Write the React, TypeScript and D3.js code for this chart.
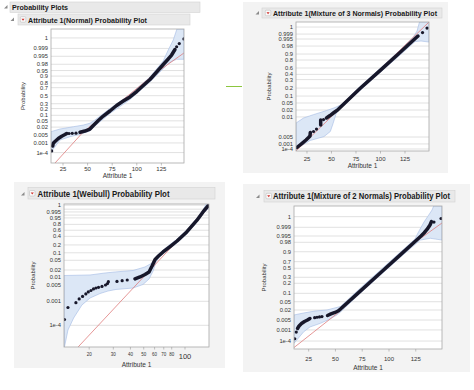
import React from "react";
import * as d3 from "d3";

type Pt = [number, number];

// ---------------- Panel 1 : Normal (y in normal-quantile units) ----------------
const normTickProbs = [0.99992, 0.999, 0.995, 0.98, 0.95, 0.9, 0.8, 0.7, 0.5, 0.3, 0.2, 0.1, 0.05, 0.02, 0.005, 0.001, 0.0001];
const normTickLabels = ["1", "0.999", "0.995", "0.98", "0.95", "0.9", "0.8", "0.7", "0.5", "0.3", "0.2", "0.1", "0.05", "0.02", "0.005", "0.001", "1e-4"];
const normDense: Pt[][] = [
  [[14.5, -3.29], [15.1, -3.11], [16.9, -2.99], [20.2, -2.8], [23.7, -2.65], [27.0, -2.54], [28.8, -2.47]],
  [[42.3, -2.39], [47.3, -2.31], [52.4, -2.18], [55.8, -1.95], [60.9, -1.62], [65.9, -1.33], [72.7, -1.0], [79.5, -0.64], [86.3, -0.35], [93.1, -0.08], [99.9, 0.27], [106.6, 0.67], [113.4, 1.06], [120.2, 1.55], [126.9, 2.04], [132.0, 2.4], [135.4, 2.66], [138.8, 3.02]],
];
const normDots: Pt[] = [[13.5, -3.61], [31.1, -2.47], [34.4, -2.46], [38.2, -2.45], [140.5, 3.2], [143.2, 3.41], [147.9, 3.71]];
const normUpper: Pt[] = [[12.8, -2.35], [21.9, -2.18], [35.5, -2.03], [45.6, -1.92], [52.4, -1.8], [57.5, -1.59], [72.7, -0.84], [93.1, 0.08], [113.4, 1.22], [126.9, 2.27], [132.0, 2.99], [137.1, 3.64], [140.8, 4.36], [148, 4.36]];
const normLower: Pt[] = [[12.8, -3.68], [21.9, -2.9], [32.1, -2.68], [42.3, -2.52], [52.4, -2.31], [57.5, -1.98], [72.7, -1.16], [93.1, -0.25], [113.4, 0.9], [123.6, 1.55], [133.7, 2.2], [140.5, 2.38], [148, 2.38]];
const normFit: Pt[] = [[16.9, -4.4], [45.3, -2.39], [120.5, 1.54], [147.9, 2.79]];

// ---------------- Panel 2 : Mixture of 3 Normals (y in fitted-quantile units) ----------------
const mix3TickQuantiles = [144.2, 136.8, 131.6, 124.2, 115.8, 109.5, 101.1, 94.4, 88.9, 80.0, 71.6, 64.3, 56.9, 49.6, 28.5, 21.2, 15.9];
const mix3TickLabels = ["1", "0.999", "0.995", "0.98", "0.9", "0.8", "0.6", "0.4", "0.3", "0.2", "0.1", "0.05", "0.02", "0.01", "0.005", "0.001", "1e-4"];
const mix3Dense: Pt[][] = [
  [[14.8, 17.5], [17.9, 20.1], [20.9, 22.7], [24.0, 25.4], [26.6, 28.0], [28.1, 29.6], [28.4, 33.3]],
  [[39.0, 41.1], [39.0, 43.7], [39.0, 46.4]],
  [[44.9, 48.5], [48.5, 51.1], [52.6, 54.3], [56.7, 57.4], [79.1, 79.5], [99.5, 98.4], [119.9, 117.4], [133.2, 130.0], [138.3, 134.7]],
];
const mix3Dots: Pt[] = [[31.7, 34.3], [34.7, 36.9], [41.9, 46.9], [142.9, 138.4], [147.5, 143.1]];
const mix3Upper: Pt[] = [[13.8, 43.2], [21.5, 48.5], [31.5, 52.0], [45.1, 56.4], [53.6, 59.5], [60.4, 62.7], [79.1, 81.6], [99.5, 100.5], [119.9, 120.0], [133.2, 133.1], [137.3, 140.0], [139.8, 149.5], [149.5, 149.5]];
const mix3Lower: Pt[] = [[13.8, 15.4], [14.8, 16.4], [28.1, 24.8], [42.4, 29.0], [48.8, 34.3], [51.6, 42.7], [54.6, 52.7], [58.7, 58.5], [79.1, 77.4], [99.5, 96.3], [119.9, 114.7], [135.2, 128.9], [141.4, 129.5], [149.5, 128.4]];
const mix3Fit: Pt[] = [[13.8, 13.8], [149.5, 149.5]];

// ---------------- Panel 3 : Weibull (log x, y = ln(-ln(1-p))) ----------------
const weibTickProbs = [0.99996, 0.999, 0.995, 0.98, 0.95, 0.8, 0.6, 0.4, 0.2, 0.1, 0.05, 0.02, 0.01, 0.005, 0.001, 0.0001];
const weibTickLabels = ["1", "", "0.995", "", "0.95", "0.8", "0.6", "0.4", "0.2", "0.1", "0.05", "0.02", "0.01", "0.005", "0.001", "1e-4"];
const weibXTicks = [20, 30, 40, 50, 60, 70, 80, 100];
const weibXTickLabels = ["20", "30", "40", "50", "60", "70", "80", "100"];
const weibDense: Pt[][] = [
  [[43.2, -4.76], [47.0, -4.57], [51.1, -4.33], [54.7, -4.09], [57.5, -3.52], [60.5, -2.89], [64.1, -2.56], [69.2, -2.17], [77.8, -1.65], [87.5, -1.12], [103.0, -0.25], [121.9, 0.85], [135.4, 1.67], [148.2, 2.29]],
];
const weibDots: Pt[] = [[13.2, -8.65], [14.0, -7.5], [16.0, -7.04], [16.9, -6.68], [17.9, -6.44], [18.9, -6.2], [19.7, -6.01], [20.6, -5.87], [21.5, -5.72], [22.4, -5.63], [23.4, -5.56], [24.8, -5.48], [26.3, -5.34], [27.2, -5.2], [27.6, -5.02], [31.9, -5.0], [34.8, -4.93], [37.9, -4.86]];
const weibUpper: Pt[] = [[13.1, -4.43], [20.3, -4.38], [26.1, -4.19], [30.9, -4.09], [41.8, -3.95], [51.1, -3.61], [57.5, -3.23], [61.5, -2.6], [69.2, -1.98], [77.8, -1.45], [87.5, -0.93], [103.0, -0.06], [121.9, 1.04], [135.4, 1.86], [142.5, 2.43], [149.7, 2.43]];
const weibLower: Pt[] = [[13.2, -11.29], [14.0, -9.66], [15.4, -8.51], [17.7, -7.26], [20.3, -6.59], [24.0, -6.16], [27.4, -5.92], [31.4, -5.77], [41.8, -5.63], [49.4, -5.29], [54.7, -4.76], [58.5, -4.0], [61.5, -3.13], [64.1, -2.75], [69.2, -2.37], [77.8, -1.84], [87.5, -1.31], [103.0, -0.45], [121.9, 0.66], [135.4, 1.47], [149.7, 2.05]];
const weibFit: Pt[] = [[16.6, -11.29], [149.7, 2.15]];

// ---------------- Panel 4 : Mixture of 2 Normals ----------------
const mix2TickQuantiles = [139.2, 128.9, 120.5, 114.4, 105.3, 95.7, 89.3, 80.6, 74.8, 65.1, 57.0, 49.0, 39.3, 29.7, 19.0];
const mix2TickLabels = ["1", "0.999", "0.995", "0.98", "0.9", "0.7", "0.5", "0.3", "0.2", "0.1", "0.05", "0.02", "0.005", "0.001", "1e-4"];
const mix2Dense: Pt[][] = [
  [[14.6, 31.1], [16.0, 33.5], [18.3, 35.9], [21.1, 37.9], [23.9, 39.3], [26.2, 40.8]],
  [[42.6, 43.7], [45.8, 45.2], [49.6, 46.6], [52.4, 48.0], [54.7, 49.9], [72.9, 67.0], [91.6, 84.5], [110.3, 102.0], [124.3, 115.2], [129.9, 120.5], [132.7, 123.4], [135.5, 126.8], [138.3, 131.2], [139.7, 134.5]],
];
const mix2Dots: Pt[] = [[12.0, 21.2], [13.4, 27.7], [30.6, 41.6], [32.8, 42.0], [35.1, 42.3], [37.4, 42.6], [142.0, 134.0], [148.6, 137.4]];
const mix2Upper: Pt[] = [[11.3, 44.2], [20.4, 46.1], [30.9, 48.0], [42.1, 49.0], [54.7, 52.4], [72.9, 69.8], [91.6, 87.2], [110.3, 104.6], [124.3, 117.6], [127.7, 124.7], [132.7, 134.0], [136.1, 139.2], [140.2, 145.6], [141.7, 149.5], [149.5, 149.5]];
const mix2Lower: Pt[] = [[11.3, 16.8], [20.4, 28.0], [26.2, 32.6], [35.9, 36.1], [44.9, 40.3], [51.4, 44.2], [55.2, 47.5], [72.9, 64.9], [91.6, 82.3], [110.3, 99.7], [124.3, 112.3], [129.4, 116.6], [138.6, 118.3], [149.5, 116.6]];
const mix2Fit: Pt[] = [[11.3, 12.7], [51.4, 45.5], [126.1, 115.7], [149.5, 133.1]];

const linXTicks = [25, 50, 75, 100, 125];
const linXTickLabels = ["25", "50", "75", "100", "125"];

// ---------------- helpers ----------------
function probit(p: number): number {
  const a = [-39.69683028665376, 220.9460984245205, -275.9285104469687, 138.357751867269, -30.66479806614716, 2.506628277459239];
  const b = [-54.47609879822406, 161.5858368580409, -155.6989798598866, 66.80131188771972, -13.28068155288572];
  const c = [-0.007784894002430293, -0.3223964580411365, -2.400758277161838, -2.549732539343734, 4.374664141464968, 2.938163982698783];
  const d = [0.007784695709041462, 0.3224671290700398, 2.445134137142996, 3.754408661907416];
  const plow = 0.02425;
  if (p < plow) {
    const q = Math.sqrt(-2 * Math.log(p));
    return (((((c[0] * q + c[1]) * q + c[2]) * q + c[3]) * q + c[4]) * q + c[5]) / ((((d[0] * q + d[1]) * q + d[2]) * q + d[3]) * q + 1);
  }
  if (p > 1 - plow) {
    const q = Math.sqrt(-2 * Math.log(1 - p));
    return -(((((c[0] * q + c[1]) * q + c[2]) * q + c[3]) * q + c[4]) * q + c[5]) / ((((d[0] * q + d[1]) * q + d[2]) * q + d[3]) * q + 1);
  }
  const q = p - 0.5;
  const r = q * q;
  return ((((((a[0] * r + a[1]) * r + a[2]) * r + a[3]) * r + a[4]) * r + a[5]) * q) / (((((b[0] * r + b[1]) * r + b[2]) * r + b[3]) * r + b[4]) * r + 1);
}
const weib = (p: number) => Math.log(-Math.log(1 - p));

const FONT = "'Liberation Sans', Arial, Helvetica, sans-serif";
const INK = "#17172a";

interface Header { barX: number; barY: number; barW: number; barH: number; triX: number; triY: number; btnX: number; btnY: number; textX: number; textY: number; textLen: number; size: number; title: string }
interface PanelCfg {
  id: string;
  bg?: { x: number; y: number; w: number; h: number };
  header: Header;
  frame: { x: number; y: number; w: number; h: number };
  xLog: boolean;
  xDomain: [number, number];
  yDomain: [number, number];
  xTicks: number[];
  xTickLabels: string[];
  xLabelY: number;
  xTitleY: number;
  yTitleX: number;
  yTicks: number[];
  yTickLabels: string[];
  dense: Pt[][];
  dots: Pt[];
  upper: Pt[];
  lower: Pt[];
  fit: Pt[];
}

function HeaderBar({ h }: { h: Header }) {
  return (
    <g>
      <rect x={h.barX} y={h.barY} width={h.barW} height={h.barH} fill="#e9e9e9" stroke="#d2d2d2" strokeWidth={0.6} />
      <path d={`M${h.triX + 3.5},${h.triY - 2}L${h.triX + 3.5},${h.triY + 1.5}L${h.triX},${h.triY + 1.5}Z`} fill="#8a8a8a" />
      {h.btnX > 0 && (
        <g>
          <rect x={h.btnX} y={h.btnY} width={5.5} height={5.5} rx={1} fill="#fafafa" stroke="#b5b5b5" strokeWidth={0.5} />
          <path d={`M${h.btnX + 1.2},${h.btnY + 2}L${h.btnX + 4.3},${h.btnY + 2}L${h.btnX + 2.75},${h.btnY + 4}Z`} fill="#d0302b" />
        </g>
      )}
      <text x={h.textX} y={h.textY} fontFamily={FONT} fontWeight="bold" fontSize={h.size} fill="#1a1a1a" textLength={h.textLen} lengthAdjust="spacingAndGlyphs">
        {h.title}
      </text>
    </g>
  );
}

function Panel({ cfg }: { cfg: PanelCfg }) {
  const f = cfg.frame;
  const x: any = cfg.xLog
    ? d3.scaleLog().domain(cfg.xDomain).range([f.x, f.x + f.w])
    : d3.scaleLinear().domain(cfg.xDomain).range([f.x, f.x + f.w]);
  const y = d3.scaleLinear().domain(cfg.yDomain).range([f.y + f.h, f.y]);
  const line = d3.line<Pt>().x((d) => x(d[0])).y((d) => y(d[1]));
  const band = line([...cfg.upper, ...cfg.lower.slice().reverse()]) + "Z";
  const clip = `clip-${cfg.id}`;
  return (
    <g>
      {cfg.bg && <rect x={cfg.bg.x} y={cfg.bg.y} width={cfg.bg.w} height={cfg.bg.h} fill="#f3f3f3" />}
      <HeaderBar h={cfg.header} />
      <defs>
        <clipPath id={clip}>
          <rect x={f.x} y={f.y} width={f.w} height={f.h} />
        </clipPath>
      </defs>
      <rect x={f.x} y={f.y} width={f.w} height={f.h} fill="#ffffff" />
      <g clipPath={`url(#${clip})`}>
        {cfg.yTicks.map((t, i) => (
          <line key={i} x1={f.x} x2={f.x + f.w} y1={y(t)} y2={y(t)} stroke="#d9d9d9" strokeWidth={0.8} />
        ))}
        <path d={band} fill="#dce7f6" stroke="#a3bbe4" strokeWidth={0.6} />
        <path d={line(cfg.fit) || ""} fill="none" stroke="#de7c7c" strokeWidth={0.8} />
        {cfg.dense.map((seg, i) => (
          <path key={i} d={line(seg) || ""} fill="none" stroke={INK} strokeWidth={3.5} strokeLinecap="round" strokeLinejoin="round" />
        ))}
        {cfg.dots.map((p, i) => (
          <circle key={i} cx={x(p[0])} cy={y(p[1])} r={1.6} fill={INK} />
        ))}
      </g>
      <rect x={f.x} y={f.y} width={f.w} height={f.h} fill="none" stroke="#a9a9a9" strokeWidth={0.8} />
      {cfg.yTicks.map((t, i) =>
        cfg.yTickLabels[i] ? (
          <text key={i} x={f.x - 3} y={y(t)} dy="0.35em" textAnchor="end" fontFamily={FONT} fontSize={5.8} fill="#333">
            {cfg.yTickLabels[i]}
          </text>
        ) : null
      )}
      {cfg.xTicks.map((t, i) => {
        const big = !cfg.xLog || cfg.xTickLabels[i] === "100";
        return (
          <g key={i}>
            <line x1={x(t)} x2={x(t)} y1={f.y + f.h} y2={f.y + f.h + 2.5} stroke="#9a9a9a" strokeWidth={0.6} />
            <text x={x(t)} y={cfg.xLabelY + (cfg.xLog && big ? 3 : 0)} textAnchor="middle" fontFamily={FONT} fontSize={cfg.xLog ? (big ? 7.5 : 4.5) : 6} fill="#333">
              {cfg.xTickLabels[i]}
            </text>
          </g>
        );
      })}
      <text x={f.x + f.w / 2} y={cfg.xTitleY} textAnchor="middle" fontFamily={FONT} fontSize={6.5} fill="#333">
        Attribute 1
      </text>
      <text transform={`translate(${cfg.yTitleX},${f.y + f.h / 2}) rotate(-90)`} dy="0.35em" textAnchor="middle" fontFamily={FONT} fontSize={6} fill="#333">
        Probability
      </text>
    </g>
  );
}

const panels: PanelCfg[] = [
  {
    id: "normal",
    header: { barX: 18, barY: 14, barW: 172, barH: 11, triX: 10.5, triY: 19.5, btnX: 20.3, btnY: 16.7, textX: 28, textY: 22.6, textLen: 119, size: 8, title: "Attribute 1(Normal) Probability Plot" },
    frame: { x: 51, y: 29, w: 133, h: 134 },
    xLog: false,
    xDomain: [12.8, 148],
    yDomain: [-4.4, 4.36],
    xTicks: linXTicks,
    xTickLabels: linXTickLabels,
    xLabelY: 170.5,
    xTitleY: 178,
    yTitleX: 23.3,
    yTicks: normTickProbs.map(probit),
    yTickLabels: normTickLabels,
    dense: normDense,
    dots: normDots,
    upper: normUpper,
    lower: normLower,
    fit: normFit,
  },
  {
    id: "mix3",
    bg: { x: 243, y: 2, w: 205, h: 171 },
    header: { barX: 262, barY: 8, barW: 180, barH: 10, triX: 255.5, triY: 13, btnX: 265.3, btnY: 10.2, textX: 273, textY: 16, textLen: 164, size: 8, title: "Attribute 1(Mixture of 3 Normals) Probability Plot" },
    frame: { x: 296, y: 22, w: 133, h: 129 },
    xLog: false,
    xDomain: [13.8, 149.5],
    yDomain: [13.8, 149.5],
    xTicks: linXTicks,
    xTickLabels: linXTickLabels,
    xLabelY: 160.5,
    xTitleY: 168,
    yTitleX: 268.7,
    yTicks: mix3TickQuantiles,
    yTickLabels: mix3TickLabels,
    dense: mix3Dense,
    dots: mix3Dots,
    upper: mix3Upper,
    lower: mix3Lower,
    fit: mix3Fit,
  },
  {
    id: "weibull",
    bg: { x: 14, y: 182, w: 211, h: 186 },
    header: { barX: 28, barY: 187.5, barW: 187, barH: 11.5, triX: 21, triY: 194, btnX: 29.5, btnY: 190.5, textX: 37.5, textY: 196.6, textLen: 132, size: 8.5, title: "Attribute 1(Weibull) Probability Plot" },
    frame: { x: 64, y: 204, w: 145, h: 143 },
    xLog: true,
    xDomain: [13.1, 149.7],
    yDomain: [-11.29, 2.43],
    xTicks: weibXTicks,
    xTickLabels: weibXTickLabels,
    xLabelY: 355.5,
    xTitleY: 367,
    yTitleX: 33.3,
    yTicks: weibTickProbs.map(weib),
    yTickLabels: weibTickLabels,
    dense: weibDense,
    dots: weibDots,
    upper: weibUpper,
    lower: weibLower,
    fit: weibFit,
  },
  {
    id: "mix2",
    bg: { x: 243, y: 184, w: 227, h: 188 },
    header: { barX: 264, barY: 190.5, barW: 191, barH: 11.5, triX: 256, triY: 196.5, btnX: 266, btnY: 193.3, textX: 273, textY: 199.2, textLen: 177, size: 8.5, title: "Attribute 1(Mixture of 2 Normals) Probability Plot" },
    frame: { x: 294, y: 206, w: 148, h: 143 },
    xLog: false,
    xDomain: [11.3, 149.5],
    yDomain: [11.3, 149.5],
    xTicks: linXTicks,
    xTickLabels: linXTickLabels,
    xLabelY: 361,
    xTitleY: 369.5,
    yTitleX: 263.7,
    yTicks: mix2TickQuantiles,
    yTickLabels: mix2TickLabels,
    dense: mix2Dense,
    dots: mix2Dots,
    upper: mix2Upper,
    lower: mix2Lower,
    fit: mix2Fit,
  },
];

const topHeader: Header = { barX: 10, barY: 2, barW: 190, barH: 10.5, triX: 4, triY: 7, btnX: -100, btnY: -100, textX: 12, textY: 10.3, textLen: 56, size: 8, title: "Probability Plots" };

export default function App() {
  return (
    <svg width={474} height={390} style={{ position: "absolute", left: 0, top: 0, background: "#ffffff" }}>
      <rect x={0} y={0} width={474} height={390} fill="#ffffff" />
      <HeaderBar h={topHeader} />
      <line x1={226} x2={242} y1={86.5} y2={86.5} stroke="#8cc63f" strokeWidth={1} />
      {panels.map((p) => (
        <Panel key={p.id} cfg={p} />
      ))}
    </svg>
  );
}
